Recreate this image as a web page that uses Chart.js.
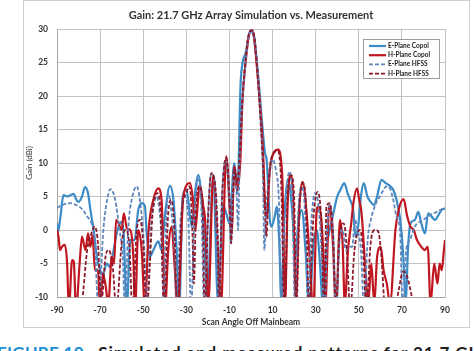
<!DOCTYPE html>
<html>
<head>
<meta charset="utf-8">
<script src="https://cdn.jsdelivr.net/npm/chart.js@4.4.1/dist/chart.umd.min.js"></script>
<style>
  html, body { margin: 0; padding: 0; width: 474px; height: 351px; overflow: hidden; background: #fff; }
  #frame { position: absolute; left: 23px; top: 0; width: 447px; height: 328px; border: 1px solid #cfcfcf; box-sizing: border-box; }
  #wrap { position: absolute; left: 0; top: 0; width: 474px; height: 340px; }
  #caption { position: absolute; left: -3px; top: 342px; font: bold 17px Lato, sans-serif; letter-spacing: 0.9px; white-space: nowrap; color: #1e1e1e; }
  #caption span { color: #1b8fd2; letter-spacing: 0.3px; }
</style>
</head>
<body>
<div id="frame"></div>
<div id="wrap"><canvas id="gain-chart"></canvas></div>
<div id="caption"><span>FIGURE 10.</span>&nbsp;&nbsp;Simulated and measured patterns for 21.7 GHz</div>
<script>
// scan angle ticks / gain range
const angleTicks = [-90, -70, -50, -30, -10, 10, 30, 50, 70, 90];
const gainTicks = [-10, -5, 0, 5, 10, 15, 20, 25, 30];

const seriesNames = ["E-Plane Copol", "H-Plane Copol", "E-Plane HFSS", "H-Plane HFSS"];

// E-Plane Copol (measured)
const eCopolAngle = [-90, -89.5, -88.4, -87, -85.3, -83.8, -82.3, -81, -80, -78.4, -77, -75.6, -74.5, -73, -71.5, -70, -68.5, -67, -65.5, -64, -62.3, -60.8, -59.8, -59, -57.7, -56, -54, -52.3, -50.7, -49.2, -48.4, -46.9, -45.3, -43, -41.5, -40, -37.6, -36, -34.5, -33.3, -31.7, -29.9, -27.5, -26, -24.4, -22.9, -21.4, -20.5, -17.5, -15.3, -13, -11.5, -10, -7.75, -6.25, -4.75, -2.5, -0.25, 1.25, 3.5, 5, 6.5, 7.25, 8.75, 9.5, 11, 12, 13.25, 14, 15.5, 17, 18, 19.3, 20.5, 22, 23.5, 25.5, 27, 29, 30.5, 32, 33.5, 35, 36.5, 37.9, 40, 41.5, 43.3, 44.8, 46, 47.4, 48.5, 49.7, 51, 52.3, 54, 55.5, 57, 58.5, 60.5, 62.5, 64, 66, 67.5, 69, 70, 70.8, 71.8, 72.8, 74, 76, 77.6, 79, 80.7, 82.2, 83.8, 85.3, 86.9, 88.4, 90];
const eCopolGain = [1, -0.3, 2, 5.2, 5, 5.2, 5.4, 4.5, 4.2, 5, 6.4, 5.5, 3, 0, -4, -6, -6.5, -5, -5.5, -3.5, -0.5, 1, 1.2, -1, -12, -1.5, -1.5, 3, 4, 3.5, -0.5, -4, -3, -1.7, -3, 2, 6.6, 4.5, -3, -12, 5, 6, 0.5, 5.5, 8.2, 4.5, -3, -11, 8, -11, 3.7, 2.5, 1, 10, 5.5, 22.4, 26.4, 29.7, 28.9, 22.4, 16.5, 11.5, 10.5, 1.5, 0.5, 2, 3.5, -3, -11, 2, 7.5, 6.5, 2, -4, 1, 3, -4, -12, -2, 0, -5, -12, -3, 0, 2, 5, 6, 7, 5.5, 4.5, 3, -1, 0.5, 5, 7, 5, 4.2, 3.7, 5, 7.5, 7, 6.7, 6, 4.5, 2, -1, -5, -11, -3, 1, 1.5, 2.7, 1, -0.5, 2.5, 2, 1.5, 2.2, 3, 3.2];

// H-Plane Copol (measured)
const hCopolAngle = [-90, -89.3, -88.6, -87.7, -86.4, -85.3, -84.5, -83, -82.2, -81.2, -79.5, -78.4, -76.8, -75.6, -74.5, -73.5, -72.4, -71, -70, -68.8, -67.6, -66.2, -64.6, -63.5, -62.6, -61.5, -60, -59, -57.5, -56, -54.6, -53.8, -52.3, -50.7, -49.2, -47.6, -45.3, -43, -41.5, -40.7, -39.9, -38.4, -36.8, -35.5, -34, -31.4, -28.3, -26.8, -26, -23.7, -22.1, -21.3, -19.8, -17.5, -15.3, -14, -11.5, -9, -7.75, -6.5, -5, -4, -2.5, -1, 0.3, 1.2, 2, 3.5, 5, 5.75, 6.5, 7.25, 8.75, 10.5, 12.5, 14.5, 15.8, 17, 18.3, 19.5, 20.8, 22.3, 23.9, 25.8, 27, 28.9, 30.4, 31.2, 32.5, 33.5, 34.5, 36.3, 38, 39.4, 41.3, 42.5, 43.5, 45, 46.5, 47.5, 49.2, 50.2, 51.3, 52.9, 54.4, 55.8, 57.2, 58.5, 60.2, 61.5, 63, 64.5, 67, 68.5, 70.8, 72.5, 74, 75.5, 77, 79, 80.5, 82, 83.3, 85, 86.5, 87.5, 88.5, 89.5, 90];
const hCopolGain = [0, -1, -3, -2.5, -2.2, -5, -12, -4.5, -4.7, -12, -5, -1, -3, -0.5, -2.5, -0.8, -6, -6, -12, -6.5, -8, -11, -4, -5, 1.5, 1, 0, 2.5, 0.2, 0, -4, -12, 0, -3, -12, -0.5, 4.5, 6.2, 4.5, -3, -12, -3, 0.5, -5, -12, 5, 7, 4, 0, 6.7, 3.5, 1.5, -11, 8.2, -3.5, -12, 11, -0.5, 9.5, 6, 10, 19, 25, 29, 29.8, 29.3, 27, 21.4, 15, 10.5, 4, 2, 9, 11.5, 12, 8, -11, 4, 8.2, 5, -11, 3, 7.2, 2.5, -3, -12, 2.5, 3.5, 2, -3, -11, 3.7, -2, -12, 1.5, -2, -11, -3, 1, 4, 6.2, 4.5, 2.5, -5, -11, -5, -11, -4, -2.5, -6, -8, -11, 0, 3, 4.6, 2, 0.5, 0, -1.5, -2.5, -3, -2.5, -11, -5, -8, -5, -6, -3, -1.5];

// E-Plane HFSS (simulated)
const eHfssAngle = [-90, -87, -84, -81, -78, -76, -74, -72.5, -70.8, -68.5, -67, -65.2, -63, -61, -59.5, -58.5, -57, -55, -53, -51, -49.5, -48.3, -46.5, -45, -43.8, -42.5, -41.2, -40.5, -39.5, -38.4, -37, -35.5, -34.5, -33, -31.5, -30.6, -29, -27.8, -26.5, -25.5, -24.4, -23, -21.7, -20, -18.5, -17.3, -16, -15, -13.5, -11.7, -10, -9.3, -8.5, -7.5, -6.6, -6, -5.3, -4, -2.5, -1, 0.3, 1.5, 3, 4.5, 5.5, 6.2, 7, 8.5, 10, 11.5, 13, 14, 15, 16.5, 17.8, 19, 20.5, 22, 23.5, 25, 26.5, 28, 29.7, 31.5, 33, 34, 35.5, 36.6, 38, 39.5, 41, 42.5, 44, 45.5, 47, 48.2, 49.5, 51, 52.5, 54, 56, 58, 59.8, 62.9, 64.5, 66, 67.5, 69.1, 70.5, 72, 73.7, 76, 79.9, 83, 86.1, 89.2, 90];
const eHfssGain = [3.3, 3.8, 4, 3.7, 3, 2, 1, -1.5, -12, 0, 4, 6.1, 4.5, 0, -4, -12, 0, 5, 6.5, 3, -3, -12, 0, 4, 5, 3, -3, -12, 0, 5.5, 3, -3, -12, 0, 4.5, 5, 1, -12, 0, 6, 7.5, 3, -12, 2, 8.3, 8, 2, -12, 5, 10.5, 4, -2, 6, 9, 5, 0, 10, 19, 25, 29, 29.7, 29, 24, 16, 9, -3, 3, 8, 10.5, 9, 4, -10, -2, 6, 8.7, 6, -12, 3, 6.5, 3, -12, 1, 5.5, 3, -5, -12, 1, 3.7, 0, -12, -2, 0, -3, -2.5, -2.5, 1.5, 0, -3, -12, -2, 2, 4, 5, 6.5, 6.2, 4.5, 2, 0, -12, -3, -1.5, 0.5, 1.5, 2.2, 2.7, 3.2, 3.3];

// H-Plane HFSS (simulated)
const hHfssAngle = [-90, -85, -80, -78.5, -76, -74, -72.5, -71, -69.5, -67.5, -66, -64, -62.5, -60, -58.3, -56.5, -55, -53, -51.5, -50, -48.5, -45.5, -43.5, -42, -40.3, -38.5, -37, -35.5, -34.3, -32, -30, -28.5, -27.2, -26.5, -25.5, -24, -22.5, -21.5, -19.9, -18.4, -17, -15.5, -14.8, -13.5, -11.5, -10, -9.2, -8.3, -7.5, -6.5, -5.5, -4, -2.5, -1, 0.2, 1.5, 3, 4.5, 5.5, 6.5, 7.2, 8.2, 10.5, 12.5, 14, 15.5, 17, 18.5, 20, 21, 22.5, 24, 25.5, 27, 28.8, 30.9, 32.5, 34, 35, 36.5, 38, 39.5, 41, 43, 44.5, 46, 48, 50.5, 52, 53.5, 55.5, 57.5, 59, 60.5, 62.1, 64, 67, 68.5, 70.6, 72.5, 74, 76, 80, 85, 90];
const hHfssGain = [-14, -13, -12, -11, -3, -0.5, 0.5, -2, -11, -4, -3, -6, -12, -2, 0, -2, -12, 0, 1.5, -2, -12, 3, 5.5, 3, -12, 2, 4.5, 0, -12, 3, 5.5, 6.5, 0, -8, 3, 6.5, 4, -12, 2, 8.5, 7.5, 0, -12, 4, 10.8, 5, -2, 5, 9.3, 7, 10, 19.5, 25.5, 29.3, 29.8, 29, 23.5, 16, 10, 3, -1, 7, 11.5, 11.8, 7, -12, 5, 8.2, 5, -12, 3, 7, 4, -12, 1, 5.7, 2, -12, 3.5, 4, 0, -12, -1, 1, -3, -12, -3, 0, -3, -12, -2, 0, -0.2, -4, -12, -14, -12, -9, -6.2, -7, -9, -12, -14, -13, -14];

const seriesAngles = [eCopolAngle, hCopolAngle, eHfssAngle, hHfssAngle];
const seriesGains = [eCopolGain, hCopolGain, eHfssGain, hHfssGain];
const seriesColors = ["#3a8bc6", "#c0161f", "#5f86bd", "#8c1a2c"];
const seriesDash = [[], [], [4, 2], [4, 2]];
const seriesWidth = [2.2, 2.2, 1.8, 1.8];

Chart.defaults.font.family = "Lato, 'Open Sans', sans-serif";
Chart.defaults.color = "#333";

const toPoints = (xs, ys) => xs.map((x, i) => ({ x: x, y: ys[i] }));

const datasets = seriesNames.map((name, i) => ({
  label: name,
  data: toPoints(seriesAngles[i], seriesGains[i]),
  borderColor: seriesColors[i],
  backgroundColor: seriesColors[i],
  borderWidth: seriesWidth[i],
  borderDash: seriesDash[i],
  pointRadius: 0,
  cubicInterpolationMode: "monotone",
  order: 4 - i,
}));

// legend box drawn inside the plot, upper right
const legendBox = {
  id: "legendBox",
  afterDatasetsDraw(chart) {
    const ctx = chart.ctx;
    const area = chart.chartArea;
    const left = area.right - 82;
    const top = area.top + 10;
    ctx.save();
    ctx.fillStyle = "#fff";
    ctx.strokeStyle = "#9c9c9c";
    ctx.lineWidth = 1;
    ctx.fillRect(left + 0.5, top + 0.5, 76, 39);
    ctx.strokeRect(left + 0.5, top + 0.5, 76, 39);
    chart.data.datasets.forEach((ds, i) => {
      const y = top + 7 + i * 9.2;
      ctx.beginPath();
      ctx.setLineDash(ds.borderDash);
      ctx.strokeStyle = ds.borderColor;
      ctx.lineWidth = ds.borderWidth;
      ctx.moveTo(left + 6, y);
      ctx.lineTo(left + 23, y);
      ctx.stroke();
      ctx.setLineDash([]);
      ctx.fillStyle = "#222";
      ctx.font = "bold 6.5px Lato";
      ctx.textBaseline = "middle";
      ctx.fillText(ds.label, left + 25, y);
    });
    ctx.restore();
  },
};

new Chart(document.getElementById("gain-chart").getContext("2d"), {
  type: "line",
  data: { datasets: datasets },
  plugins: [legendBox],
  options: {
    responsive: true,
    maintainAspectRatio: false,
    animation: false,
    layout: { padding: { left: 25, right: 29, top: 0, bottom: 13 } },
    plugins: {
      legend: { display: false },
      tooltip: { enabled: false },
      title: {
        display: true,
        fullSize: false,
        text: "Gain: 21.7 GHz Array Simulation vs. Measurement",
        color: "#333",
        font: { size: 11, weight: "bold" },
        padding: { top: 9, bottom: 6.8 },
      },
    },
    scales: {
      x: {
        type: "linear",
        min: -90,
        max: 90,
        afterBuildTicks: (scale) => {
          scale.ticks = angleTicks.map((v) => ({ value: v }));
        },
        afterFit: (scale) => {
          scale.height = 30;
        },
        grid: { color: "#c2c2c2", drawTicks: false },
        border: { color: "#a8a8a8" },
        ticks: { padding: 8, font: { size: 8.5, weight: "bold" }, color: "#333", maxRotation: 0 },
        title: {
          display: true,
          text: "Scan Angle Off Mainbeam",
          font: { size: 8.5, weight: "bold" },
          color: "#333",
          padding: 0,
        },
      },
      y: {
        min: -10,
        max: 30,
        afterBuildTicks: (scale) => {
          scale.ticks = gainTicks.map((v) => ({ value: v }));
        },
        afterFit: (scale) => {
          scale.width = 32;
        },
        grid: { color: "#c2c2c2", drawTicks: false },
        border: { color: "#a8a8a8" },
        ticks: { padding: 9, font: { size: 8.5, weight: "bold" }, color: "#333" },
        title: {
          display: true,
          text: "Gain (dBi)",
          font: { size: 8 },
          color: "#333",
          padding: 0,
        },
      },
    },
  },
});
</script>
</body>
</html>
